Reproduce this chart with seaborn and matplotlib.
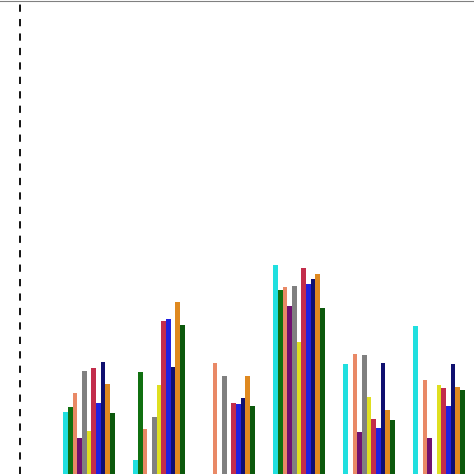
import matplotlib
matplotlib.use("Agg")
import matplotlib.pyplot as plt
import seaborn as sns
import numpy as np
import pandas as pd

groups = ["G1", "G2", "G3", "G4", "G5", "G6"]
series = ["s1", "s2", "s3", "s4", "s5", "s6", "s7", "s8", "s9", "s10", "s11"]
colors = ["cyan", "green", "coral", "purple", "gray", "yellow", "crimson",
          "blue", "navy", "darkorange", "darkgreen"]

# pixel tops, converted to 0-100 below (nan = no bar)
tops = {
    "G1": [412, 407, 393, 438, 371, 431, 368, 403, 362, 384, 413],
    "G2": [460, 372, 429, np.nan, 417, 385, 321, 319, 367, 301, 325],
    "G3": [np.nan, np.nan, 363, np.nan, 376, np.nan, 403, 404, 398, 376, 406],
    "G4": [264, 289, 286, 305, 285, 342, 267, 283, 278, 273, 307],
    "G5": [364, np.nan, 354, 432, 355, 397, 419, 428, 363, 410, 420],
    "G6": [326, np.nan, 380, 438, np.nan, 385, 388, 406, 364, 387, 390],
}

rows = []
for g in groups:
    for s, t in zip(series, tops[g]):
        rows.append({"group": g, "series": s, "value": (474 - t) / 4.74})
df = pd.DataFrame(rows)

fig = plt.figure(figsize=(4.74, 4.74), dpi=100)
ax = fig.add_axes([0, 0, 1, 0.997])
sns.barplot(data=df, x="group", y="value", hue="series", hue_order=series,
            palette=colors, width=0.74, gap=0, linewidth=0, ax=ax, legend=False)
ax.set_xlim(-89 / 70, (474 - 89) / 70)
ax.set_ylim(0, 100)
ax.axvline(-69 / 70, color="black", linestyle=(0, (4, 4)), linewidth=1.3)
for side in ["left", "right", "bottom"]:
    ax.spines[side].set_visible(False)
ax.spines["top"].set_color("gray")
ax.set_xticks([])
ax.set_yticks([])
ax.set_xlabel("")
ax.set_ylabel("")
fig.savefig("out.png", dpi=100)
